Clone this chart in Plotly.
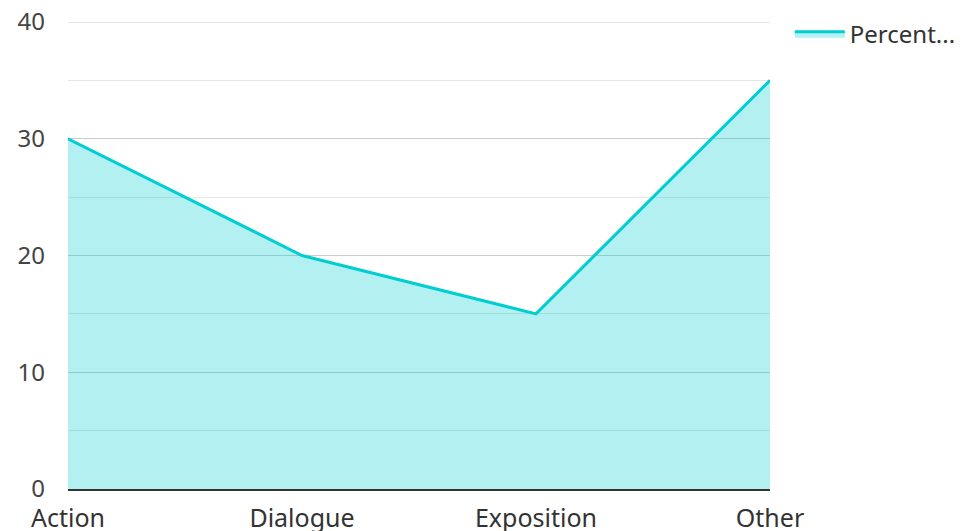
import plotly.graph_objects as go

categories = ["Action", "Dialogue", "Exposition", "Other"]
values = [30, 20, 15, 35]
series_name = "Percent..."
y_ticks = [0, 10, 20, 30, 40]

fig = go.Figure()
fig.add_trace(go.Scatter(
    x=list(range(len(categories))), y=values, name=series_name,
    mode="lines", fill="tozeroy",
    line=dict(color="#00CED1", width=3),
    fillcolor="rgba(0,206,209,0.3)",
    showlegend=True,
))
# top gridline (hidden by plotly at the axis edge)
fig.add_shape(type="line", xref="paper", yref="y", x0=0, x1=1,
              y0=y_ticks[-1], y1=y_ticks[-1], layer="below",
              line=dict(color="#cccccc", width=1))
fig.update_layout(
    width=964, height=531,
    margin=dict(l=60, r=202, t=14, b=50),
    paper_bgcolor="white", plot_bgcolor="white",
    font=dict(family="Noto Sans", size=22, color="#444"),
    showlegend=True,
    legend=dict(xref="container", yref="container", x=0.811, y=0.993,
                xanchor="left", yanchor="top",
                font=dict(size=24, color="#333"), bgcolor="rgba(0,0,0,0)",
                itemwidth=50),
    xaxis=dict(
        range=[0, 3], tickmode="array", tickvals=list(range(len(categories))),
        ticktext=categories, showgrid=False, zeroline=False,
        showline=True, linecolor="#333", linewidth=2, ticks="",
        tickfont=dict(size=25, color="#333"), automargin=False,
        ticklabelstandoff=6, ticklabeloverflow="allow",
    ),
    yaxis=dict(
        range=[0, 40], tickvals=y_ticks, showgrid=True, gridcolor="#cccccc",
        gridwidth=1, zeroline=False, showline=False, ticks="",
        tickfont=dict(size=24, color="#444"), automargin=False,
        ticklabelstandoff=22, ticklabeloverflow="allow",
        minor=dict(dtick=5, showgrid=True, gridcolor="#e6e6e6", gridwidth=1),
    ),
)
fig.write_html("out.html")
